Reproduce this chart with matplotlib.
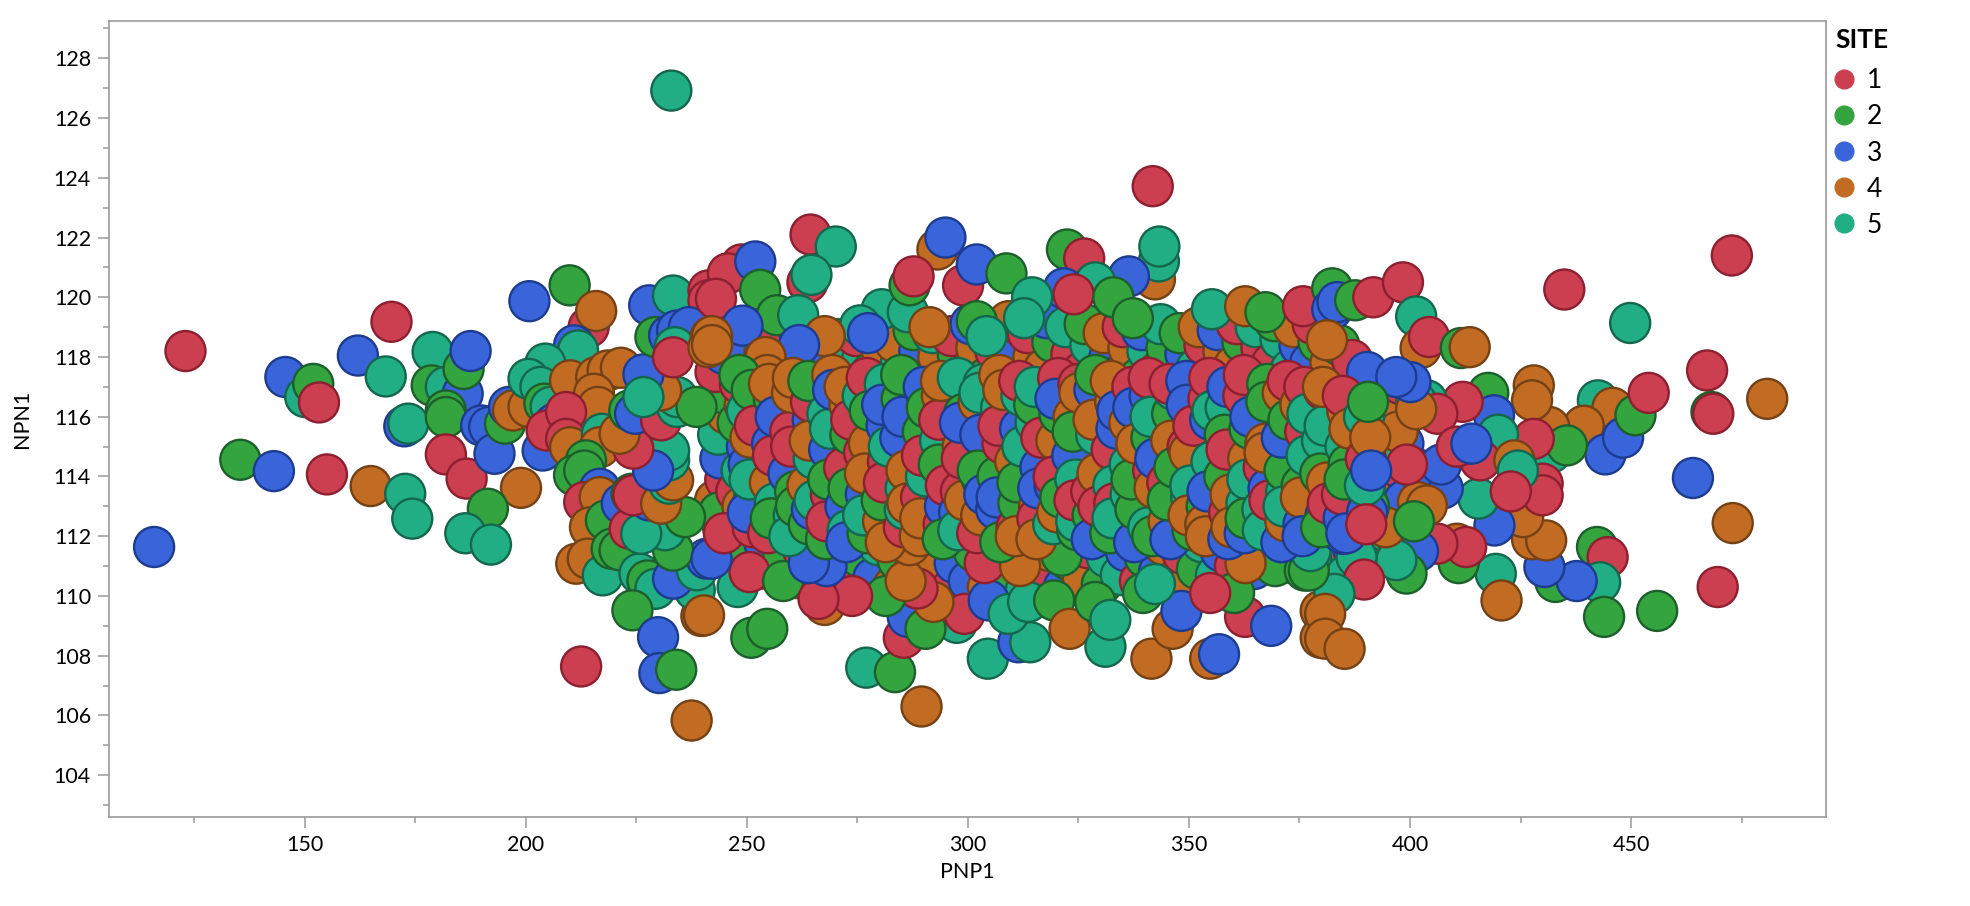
import numpy as np
import matplotlib
matplotlib.use('Agg')
import matplotlib.pyplot as plt
from matplotlib.lines import Line2D
from matplotlib.ticker import MultipleLocator

core_pnp1 = [
    243.2, 244.6, 242.8, 245.1, 244.0, 243.5, 245.4, 244.3, 242.9, 244.8, 243.7,
    248.1, 249.3, 247.6, 248.8, 250.0, 247.9, 249.5, 248.4, 250.2, 247.4, 249.0,
    252.6, 253.9, 252.2, 254.3, 253.1, 252.8, 254.6, 253.4, 252.0, 254.0, 253.6,
    257.4, 258.5, 256.9, 258.0, 259.1, 257.1, 258.8, 257.7, 259.3, 256.6, 258.2,
    261.3, 262.8, 261.0, 262.2, 263.2, 261.6, 262.5, 263.5, 260.9, 262.0, 261.9,
    265.9, 267.0, 265.2, 266.4, 267.4, 265.6, 266.8, 265.0, 267.6, 266.1, 266.6,
    270.1, 271.2, 269.7, 270.8, 271.6, 270.4, 269.4, 271.0, 270.0, 271.8, 270.6,
    274.2, 275.5, 273.8, 274.9, 275.9, 274.5, 273.5, 275.2, 274.0, 276.0, 274.7,
    278.6, 279.7, 278.1, 279.2, 280.1, 278.9, 277.9, 279.5, 278.3, 280.3, 279.0,
    283.0, 284.1, 282.5, 283.5, 284.6, 283.2, 282.3, 283.8, 282.8, 284.8, 283.4,
    287.2, 288.4, 286.8, 287.9, 288.8, 287.5, 286.5, 288.1, 287.0, 289.0, 287.7,
    291.6, 292.7, 291.1, 292.2, 293.0, 291.8, 290.9, 292.4, 291.3, 293.3, 292.0,
    296.0, 297.0, 295.4, 296.5, 297.4, 296.2, 295.1, 296.8, 295.7, 297.7, 296.3,
    300.2, 301.3, 299.8, 300.8, 301.7, 300.5, 299.5, 301.0, 300.0, 301.9, 300.6,
    304.5, 305.6, 304.0, 305.1, 306.0, 304.8, 303.8, 305.3, 304.2, 306.2, 304.9,
    308.8, 309.9, 308.3, 309.4, 310.3, 309.1, 308.1, 309.6, 308.6, 310.5, 309.2,
    313.1, 314.2, 312.6, 313.7, 314.6, 313.4, 312.4, 313.9, 312.9, 314.8, 313.5,
    317.4, 318.5, 316.9, 318.0, 318.9, 317.7, 316.7, 318.2, 317.2, 319.1, 317.8,
    321.7, 322.8, 321.2, 322.3, 323.2, 322.0, 321.0, 322.5, 321.5, 323.4, 322.1,
    326.0, 327.1, 325.5, 326.6, 327.5, 326.3, 325.3, 326.8, 325.8, 327.7, 326.4,
    330.3, 331.4, 329.8, 330.9, 331.8, 330.6, 329.6, 331.1, 330.1, 332.0, 330.7,
    334.6, 335.7, 334.1, 335.2, 336.1, 334.9, 333.9, 335.4, 334.4, 336.3, 335.0,
    338.9, 340.0, 338.4, 339.5, 340.4, 339.2, 338.2, 339.7, 338.7, 340.6, 339.3,
    343.2, 344.3, 342.7, 343.8, 344.7, 343.5, 342.5, 344.0, 343.0, 344.9, 343.6,
    347.5, 348.6, 347.0, 348.1, 349.0, 347.8, 346.8, 348.3, 347.3, 349.2, 347.9,
    351.8, 352.9, 351.3, 352.4, 353.3, 352.1, 351.1, 352.6, 351.6, 353.5, 352.2,
    356.1, 357.2, 355.6, 356.7, 357.6, 356.4, 355.4, 356.9, 355.9, 357.8, 356.5,
    360.4, 361.5, 359.9, 361.0, 361.9, 360.7, 359.7, 361.2, 360.2, 362.1, 360.8,
    364.7, 365.8, 364.2, 365.3, 366.2, 365.0, 364.0, 365.5, 364.5, 366.4, 365.1,
    369.0, 370.1, 368.5, 369.6, 370.5, 369.3, 368.3, 369.8, 368.8, 370.7, 369.4,
    373.3, 374.4, 372.8, 373.9, 374.8, 373.6, 372.6, 374.1, 373.1, 375.0, 373.7,
    377.6, 378.7, 377.1, 378.2, 379.1, 377.9, 376.9, 378.4, 377.4, 379.3, 378.0,
    382.2, 383.4, 381.7, 382.8, 383.8, 382.5, 381.4, 383.1, 382.0, 384.0, 382.6,
    387.1, 388.3, 386.6, 387.7, 388.8, 387.4, 386.3, 388.0, 386.9, 389.0, 387.5,
    392.0, 393.2, 391.5, 392.6, 393.7, 392.3, 391.2, 392.9, 391.8, 393.9, 392.4,
    396.8, 398.0, 396.3, 397.4, 398.5, 397.1, 396.0, 397.7, 396.6, 398.7, 397.2,
]
core_npn1 = [
    111.4, 112.3, 113.2, 113.9, 114.6, 115.4, 116.1, 116.8, 117.5, 118.1, 112.8,
    111.1, 112.6, 113.5, 114.2, 115.0, 115.8, 116.4, 117.1, 117.8, 118.4, 113.0,
    110.9, 111.8, 112.9, 113.7, 114.5, 115.3, 116.0, 116.7, 117.4, 118.2, 118.7,
    110.8, 112.1, 113.1, 114.0, 114.8, 115.6, 116.3, 117.0, 117.6, 118.5, 111.4,
    110.6, 111.5, 112.6, 113.4, 114.3, 115.1, 115.9, 116.6, 117.3, 118.1, 118.8,
    110.7, 112.0, 112.9, 113.8, 114.6, 115.5, 116.2, 117.0, 117.7, 118.3, 111.2,
    110.5, 111.6, 112.5, 113.3, 114.1, 115.0, 115.7, 116.5, 117.2, 118.0, 118.6,
    110.4, 111.3, 112.3, 113.1, 113.9, 114.8, 115.6, 116.4, 117.1, 117.9, 118.7,
    110.6, 111.7, 112.7, 113.6, 114.4, 115.2, 116.0, 116.8, 117.5, 118.3, 119.0,
    110.3, 111.2, 112.2, 113.0, 113.8, 114.7, 115.5, 116.3, 117.0, 117.8, 118.5,
    110.7, 111.6, 112.6, 113.5, 114.3, 115.1, 115.9, 116.7, 117.4, 118.2, 118.9,
    110.4, 111.3, 112.4, 113.2, 114.0, 114.9, 115.7, 116.5, 117.3, 118.0, 118.8,
    110.2, 111.1, 112.1, 113.0, 113.9, 114.7, 115.6, 116.4, 117.2, 118.1, 118.7,
    110.5, 111.5, 112.5, 113.4, 114.2, 115.0, 115.8, 116.6, 117.4, 118.3, 119.1,
    110.3, 111.2, 112.2, 113.1, 113.9, 114.8, 115.6, 116.5, 117.3, 118.2, 118.9,
    110.4, 111.4, 112.4, 113.3, 114.1, 114.9, 115.7, 116.6, 117.5, 118.4, 119.2,
    110.2, 111.1, 112.0, 112.9, 113.8, 114.6, 115.5, 116.3, 117.1, 118.0, 118.8,
    110.5, 111.5, 112.4, 113.3, 114.2, 115.1, 115.9, 116.7, 117.6, 118.5, 119.3,
    110.3, 111.2, 112.2, 113.1, 113.9, 114.7, 115.6, 116.4, 117.2, 118.1, 119.0,
    110.6, 111.6, 112.5, 113.4, 114.3, 115.0, 115.8, 116.7, 117.5, 118.4, 119.1,
    110.4, 111.3, 112.2, 113.0, 113.8, 114.7, 115.5, 116.3, 117.2, 118.0, 118.8,
    110.7, 111.5, 112.4, 113.2, 114.1, 115.0, 115.9, 116.6, 117.4, 118.3, 119.0,
    110.5, 111.3, 112.1, 113.1, 113.9, 114.8, 115.6, 116.4, 117.3, 118.2, 118.9,
    110.8, 111.7, 112.6, 113.5, 114.3, 115.1, 115.9, 116.7, 117.5, 118.3, 119.1,
    110.6, 111.4, 112.3, 113.2, 114.0, 114.8, 115.7, 116.5, 117.2, 118.1, 118.8,
    110.9, 111.8, 112.7, 113.5, 114.4, 115.2, 116.0, 116.8, 117.6, 118.4, 119.0,
    110.7, 111.5, 112.4, 113.3, 114.1, 114.9, 115.7, 116.6, 117.4, 118.2, 118.9,
    111.0, 111.9, 112.8, 113.6, 114.5, 115.3, 116.1, 116.9, 117.7, 118.5, 119.1,
    110.9, 111.7, 112.5, 113.4, 114.2, 115.0, 115.8, 116.7, 117.5, 118.3, 119.0,
    111.2, 112.0, 112.9, 113.7, 114.5, 115.3, 116.2, 117.0, 117.8, 118.6, 119.2,
    111.1, 111.9, 112.7, 113.5, 114.4, 115.2, 116.0, 116.8, 117.6, 118.4, 119.0,
    111.3, 112.1, 113.0, 113.8, 114.6, 115.4, 116.2, 117.0, 117.8, 118.5, 119.1,
    111.4, 112.2, 113.1, 113.9, 114.7, 115.5, 116.3, 117.1, 117.8, 118.4, 112.7,
    111.6, 112.4, 113.2, 114.0, 114.8, 115.6, 116.4, 117.2, 117.9, 112.9, 115.0,
    111.8, 112.6, 113.4, 114.2, 115.0, 115.8, 116.5, 117.2, 113.8, 112.2, 116.1,
    112.0, 112.8, 113.6, 114.3, 115.1, 115.9, 116.6, 117.1, 114.7, 113.2, 115.5,
]
core_site = [
    5, 2, 4, 1, 3, 5, 4, 2, 1, 3, 2,
    2, 4, 1, 5, 3, 2, 4, 1, 5, 3, 4,
    1, 3, 5, 2, 4, 1, 5, 3, 2, 4, 5,
    3, 5, 1, 4, 2, 3, 5, 2, 4, 1, 2,
    4, 1, 3, 2, 5, 1, 4, 3, 5, 2, 3,
    2, 4, 5, 1, 3, 2, 5, 4, 1, 3, 1,
    5, 3, 2, 4, 1, 5, 2, 3, 4, 1, 5,
    1, 2, 4, 3, 5, 1, 3, 4, 2, 5, 1,
    3, 5, 1, 2, 4, 3, 1, 5, 2, 4, 3,
    4, 2, 3, 5, 1, 4, 2, 1, 3, 5, 4,
    2, 1, 5, 4, 3, 2, 1, 4, 5, 3, 2,
    5, 4, 1, 3, 2, 5, 3, 2, 1, 4, 5,
    1, 3, 4, 2, 5, 1, 4, 5, 3, 2, 1,
    3, 2, 5, 1, 4, 3, 2, 1, 5, 4, 3,
    4, 5, 2, 3, 1, 4, 5, 3, 2, 1, 2,
    2, 1, 4, 5, 3, 2, 4, 1, 5, 3, 4,
    5, 3, 1, 2, 4, 5, 1, 2, 3, 4, 1,
    1, 4, 3, 5, 2, 1, 3, 5, 4, 2, 3,
    3, 2, 5, 4, 1, 3, 5, 4, 2, 1, 5,
    4, 1, 2, 3, 5, 4, 2, 3, 1, 5, 2,
    2, 5, 4, 1, 3, 2, 4, 1, 5, 3, 4,
    5, 3, 1, 4, 2, 5, 1, 2, 3, 4, 1,
    1, 2, 3, 5, 4, 1, 3, 4, 2, 5, 3,
    3, 4, 5, 2, 1, 3, 5, 1, 4, 2, 5,
    4, 1, 2, 3, 5, 4, 2, 5, 1, 3, 2,
    2, 5, 4, 1, 3, 2, 4, 3, 5, 1, 4,
    5, 3, 1, 2, 4, 5, 1, 2, 3, 4, 3,
    1, 4, 3, 5, 2, 1, 3, 5, 4, 2, 1,
    3, 2, 5, 4, 1, 3, 5, 4, 2, 1, 5,
    4, 1, 2, 3, 5, 4, 2, 3, 1, 5, 2,
    2, 5, 4, 1, 3, 2, 4, 1, 5, 3, 4,
    5, 3, 1, 2, 4, 5, 1, 4, 3, 2, 1,
    1, 4, 3, 5, 2, 1, 3, 5, 4, 2, 3,
    3, 2, 5, 1, 4, 3, 5, 2, 1, 4, 5,
    4, 1, 2, 3, 5, 4, 1, 3, 2, 5, 2,
    2, 5, 4, 1, 3, 2, 4, 1, 5, 3, 4,
]

# the visible rim and the stragglers, drawn after the core so they sit on top
rim_pnp1 = [
    115.9, 123.0, 135.4, 143.0, 145.6, 150.1, 151.9, 153.2, 155.0, 162.0,
    168.3, 169.6, 164.9, 172.7, 174.3, 172.5, 173.4, 178.9, 178.7, 181.9,
    185.7, 185.9, 187.5, 181.9, 181.9, 181.9, 186.6, 189.9, 191.7, 192.9,
    195.3, 196.2, 197.1, 200.6, 198.9, 191.4, 186.3, 192.1, 200.8, 209.9,
    214.2, 215.9, 210.9, 211.8, 204.4, 200.6, 203.3, 204.2, 205.6, 203.8,
    206.5, 204.7, 210.0, 215.9, 218.5, 221.5, 215.4, 216.3, 209.1, 209.1,
    210.0, 217.2, 216.7, 213.6, 210.9, 213.2, 216.7, 213.2, 216.7, 214.5,
    218.1, 221.7, 223.9, 211.4, 214.0, 217.4, 219.4, 221.2, 225.7, 227.5,
    229.3, 224.1, 229.9, 212.5, 230.2, 234.0, 237.5, 239.7, 238.2, 233.3,
    238.7, 240.9, 233.3, 231.5, 223.5, 226.1, 236.0, 227.9, 224.3, 230.6,
    232.4, 233.3, 232.4, 232.4, 228.8, 224.3, 221.2, 223.4, 224.7, 230.6,
    234.2, 234.2, 238.6, 230.6, 226.6, 226.6, 227.9, 233.3, 241.3, 241.3,
    229.3, 232.4, 234.2, 236.9, 233.7, 233.3, 241.8, 241.3, 232.9,
    264.4, 270.1, 293.1, 294.9, 298.9, 302.0, 308.7, 322.4, 326.3, 342.3,
    343.2, 343.3, 336.4, 328.8, 321.7, 323.9, 332.9, 314.5, 312.7, 337.3,
    355.2, 362.7, 367.3, 375.8, 248.8, 245.7, 243.0, 251.9, 253.0, 263.7,
    264.6, 256.8, 261.6, 249.0, 242.1, 242.1, 280.5, 286.4, 286.8, 287.7,
    291.3, 302.0, 304.2, 275.6, 277.4, 267.6, 261.8, 254.2, 254.6, 248.3,
    341.8, 240.3, 247.9, 250.6, 251.0, 254.6, 258.2, 242.0, 244.8, 277.0,
    283.5, 289.5, 285.5, 286.4, 297.5, 290.4, 299.2, 292.2, 288.6, 281.4,
    267.6, 273.8, 266.2, 285.9, 304.7, 304.5, 311.4, 314.1, 309.2, 313.6,
    319.5, 323.0, 331.1, 328.8, 332.2, 341.5, 346.3, 348.3, 354.8, 356.8,
    362.7, 368.6, 360.2, 339.6, 342.3, 354.8, 369.5, 362.8, 376.2, 377.6,
    379.8, 379.8, 268.0, 264.0, 303.8, 321.2, 311.8, 286.8, 258.6,
    382.4, 382.4, 383.6, 387.6, 391.7, 398.4, 401.4, 402.4, 404.3, 411.5,
    413.5, 381.2, 390.3, 472.8, 434.9, 449.8, 467.2, 480.8, 468.2, 468.6,
    442.5, 445.8, 439.3, 444.2, 448.2, 451.0, 454.0, 428.0, 431.5, 431.9,
    435.5, 427.6, 428.0, 417.7, 419.0, 419.9, 411.9, 403.8, 401.4, 406.2,
    401.4, 400.1, 396.9, 464.0, 473.0, 469.6, 442.3, 444.7, 443.0, 443.9,
    455.9, 432.9, 437.7, 430.4, 427.6, 430.8, 425.6, 430.0, 430.0, 419.1,
    415.5, 419.4, 420.7, 410.6, 411.0, 412.7, 406.2, 401.8, 399.2, 396.9,
    385.6, 387.9, 389.6, 382.9, 380.8, 380.8, 385.2, 377.1, 377.5, 384.8,
    407.4, 401.4, 407.0, 401.8, 403.8, 415.9, 410.6, 413.9, 423.6, 424.4,
    422.8, 394.5, 400.9, 399.3,
]
rim_npn1 = [
    111.64, 118.20, 114.56, 114.18, 117.33, 116.66, 117.10, 116.48, 114.07, 118.05,
    117.35, 119.18, 113.68, 113.42, 112.59, 115.68, 115.77, 118.17, 117.05, 117.00,
    116.77, 117.60, 118.20, 116.21, 115.99, 114.74, 113.93, 115.71, 115.66, 114.76,
    115.77, 116.33, 116.21, 116.33, 113.62, 112.92, 112.10, 111.72, 119.87, 120.40,
    119.00, 119.54, 118.39, 118.22, 117.78, 117.27, 117.00, 116.44, 116.33, 114.87,
    115.77, 115.54, 117.22, 117.33, 117.55, 117.64, 116.77, 116.33, 116.16, 115.26,
    114.98, 115.43, 114.98, 114.54, 114.04, 114.20, 113.59, 113.14, 113.31, 112.30,
    112.53, 113.09, 113.42, 111.08, 111.25, 110.69, 111.58, 111.53, 110.75, 110.52,
    110.24, 109.52, 108.62, 107.64, 107.42, 107.53, 105.83, 109.33, 110.20, 110.58,
    110.86, 111.25, 111.52, 112.20, 112.25, 112.08, 112.64, 113.20, 113.37, 113.09,
    113.76, 113.87, 114.54, 114.87, 114.20, 114.93, 115.43, 116.21, 116.10, 115.88,
    116.33, 116.66, 116.33, 116.88, 117.42, 116.66, 119.73, 120.06, 120.23, 119.90,
    118.67, 118.72, 118.89, 119.00, 118.33, 117.99, 118.67, 118.33, 126.92,
    122.10, 121.70, 121.60, 122.00, 120.40, 121.10, 120.80, 121.60, 121.30, 120.60,
    121.20, 121.70, 120.70, 120.50, 120.30, 120.10, 120.00, 120.00, 119.30, 119.30,
    119.60, 119.70, 119.50, 119.70, 121.10, 120.80, 119.95, 121.20, 120.25, 120.50,
    120.75, 119.40, 119.40, 119.05, 118.70, 118.40, 119.60, 119.50, 120.40, 120.70,
    119.00, 119.20, 118.70, 119.06, 118.80, 118.70, 118.40, 118.00, 117.40, 117.40,
    123.72, 109.35, 110.30, 110.80, 108.60, 108.90, 110.50, 111.25, 112.10, 107.60,
    107.45, 106.30, 108.60, 109.30, 109.10, 108.90, 109.40, 109.80, 110.25, 110.00,
    109.70, 110.00, 109.90, 110.50, 109.85, 107.90, 108.45, 108.45, 109.40, 109.80,
    109.85, 108.90, 108.30, 109.80, 109.20, 107.90, 108.90, 109.50, 107.90, 108.05,
    109.30, 109.00, 110.10, 110.10, 110.40, 110.10, 111.00, 111.10, 110.85, 111.25,
    109.50, 108.60, 111.00, 111.10, 111.10, 111.35, 111.00, 111.70, 112.20,
    120.30, 119.60, 119.84, 119.90, 120.00, 120.50, 119.36, 118.30, 118.67, 118.30,
    118.33, 118.56, 117.50, 121.40, 120.26, 119.14, 117.55, 116.60, 116.16, 116.10,
    116.55, 116.30, 115.70, 114.74, 115.30, 116.05, 116.80, 117.05, 115.66, 114.80,
    115.04, 116.55, 115.26, 116.80, 116.05, 115.40, 116.50, 116.55, 116.50, 116.10,
    116.25, 117.16, 117.33, 113.95, 112.44, 110.30, 111.64, 111.30, 110.46, 109.30,
    109.50, 110.47, 110.50, 110.97, 111.90, 111.86, 112.64, 113.76, 113.37, 112.36,
    113.26, 110.74, 109.85, 111.75, 111.10, 111.64, 111.75, 111.50, 110.75, 111.20,
    110.70, 111.30, 110.55, 110.07, 109.40, 108.57, 108.23, 110.85, 111.50, 112.08,
    113.60, 114.26, 114.40, 113.14, 113.03, 114.54, 115.00, 115.10, 114.54, 114.20,
    113.50, 112.30, 112.50, 114.40,
]
rim_site = [
    3, 1, 2, 3, 3, 5, 2, 1, 1, 3,
    5, 1, 4, 5, 5, 3, 5, 5, 2, 5,
    3, 2, 3, 2, 2, 1, 1, 3, 3, 3,
    2, 3, 4, 4, 4, 2, 5, 5, 3, 2,
    1, 4, 3, 5, 5, 5, 5, 2, 5, 3,
    3, 1, 4, 4, 4, 4, 4, 4, 1, 1,
    4, 5, 4, 2, 2, 2, 3, 1, 4, 4,
    2, 3, 2, 4, 4, 5, 2, 2, 5, 2,
    5, 2, 3, 1, 3, 2, 4, 4, 5, 3,
    5, 3, 2, 5, 1, 5, 2, 3, 1, 4,
    5, 4, 5, 5, 3, 1, 4, 2, 3, 1,
    5, 5, 2, 4, 3, 5, 3, 5, 1, 1,
    2, 3, 3, 3, 5, 1, 4, 4, 5,
    1, 5, 4, 3, 1, 3, 2, 2, 1, 4,
    5, 5, 3, 5, 3, 1, 2, 5, 5, 2,
    5, 4, 2, 1, 1, 1, 1, 3, 2, 1,
    5, 2, 5, 3, 4, 4, 5, 5, 2, 1,
    4, 2, 5, 5, 3, 4, 3, 4, 4, 2,
    1, 4, 5, 1, 2, 2, 2, 3, 1, 5,
    2, 4, 1, 3, 5, 2, 1, 4, 1, 2,
    4, 1, 1, 4, 3, 5, 3, 5, 5, 5,
    2, 4, 5, 2, 5, 4, 4, 3, 4, 3,
    1, 3, 2, 2, 5, 1, 2, 4, 2, 5,
    4, 4, 3, 3, 1, 2, 4, 4, 5,
    2, 3, 3, 2, 1, 1, 5, 4, 1, 2,
    4, 4, 3, 1, 1, 5, 1, 4, 2, 1,
    5, 4, 4, 3, 3, 2, 1, 4, 4, 5,
    2, 4, 1, 2, 3, 5, 1, 5, 5, 1,
    4, 3, 3, 3, 4, 1, 2, 1, 5, 2,
    2, 2, 3, 3, 4, 4, 4, 1, 1, 3,
    5, 5, 4, 4, 2, 1, 1, 3, 2, 5,
    5, 5, 1, 5, 4, 4, 4, 2, 5, 3,
    3, 3, 3, 4, 4, 1, 1, 3, 4, 5,
    1, 4, 2, 1,
]

# second pass over the inner cloud, the slivers that show on top of the rest
inner_pnp1 = [
    250.4, 251.3, 250.0, 251.6, 250.8, 250.2, 251.1, 250.6, 251.8,
    255.2, 256.1, 254.8, 255.7, 256.3, 255.0, 255.9, 255.4, 256.5,
    259.8, 260.6, 259.4, 260.2, 260.9, 259.6, 260.4, 260.0, 261.1,
    264.0, 264.9, 263.7, 264.5, 265.1, 263.9, 264.7, 264.2, 265.3,
    268.2, 269.0, 267.9, 268.6, 269.3, 268.0, 268.8, 268.4, 269.5,
    272.3, 273.2, 272.0, 272.8, 273.4, 272.1, 273.0, 272.5, 273.6,
    276.5, 277.3, 276.2, 276.9, 277.6, 276.3, 277.1, 276.7, 277.8,
    280.8, 281.6, 280.5, 281.2, 281.9, 280.6, 281.4, 281.0, 282.1,
    285.0, 285.9, 284.7, 285.5, 286.1, 284.9, 285.7, 285.2, 286.3,
    289.4, 290.2, 289.1, 289.8, 290.5, 289.2, 290.0, 289.6, 290.7,
    293.7, 294.5, 293.4, 294.1, 294.8, 293.5, 294.3, 293.9, 295.0,
    298.0, 298.8, 297.7, 298.4, 299.1, 297.8, 298.6, 298.2, 299.3,
    302.4, 303.2, 302.1, 302.8, 303.5, 302.2, 303.0, 302.6, 303.7,
    306.7, 307.5, 306.4, 307.1, 307.8, 306.5, 307.3, 306.9, 308.0,
    311.0, 311.8, 310.7, 311.4, 312.1, 310.8, 311.6, 311.2, 312.3,
    315.3, 316.1, 315.0, 315.7, 316.4, 315.1, 315.9, 315.5, 316.6,
    319.6, 320.4, 319.3, 320.0, 320.7, 319.4, 320.2, 319.8, 320.9,
    323.9, 324.7, 323.6, 324.3, 325.0, 323.7, 324.5, 324.1, 325.2,
    328.2, 329.0, 327.9, 328.6, 329.3, 328.0, 328.8, 328.4, 329.5,
    332.5, 333.3, 332.2, 332.9, 333.6, 332.3, 333.1, 332.7, 333.8,
    336.8, 337.6, 336.5, 337.2, 337.9, 336.6, 337.4, 337.0, 338.1,
    341.1, 341.9, 340.8, 341.5, 342.2, 340.9, 341.7, 341.3, 342.4,
    345.4, 346.2, 345.1, 345.8, 346.5, 345.2, 346.0, 345.6, 346.7,
    349.7, 350.5, 349.4, 350.1, 350.8, 349.5, 350.3, 349.9, 351.0,
    354.0, 354.8, 353.7, 354.4, 355.1, 353.8, 354.6, 354.2, 355.3,
    358.3, 359.1, 358.0, 358.7, 359.4, 358.1, 358.9, 358.5, 359.6,
    362.6, 363.4, 362.3, 363.0, 363.7, 362.4, 363.2, 362.8, 363.9,
    366.9, 367.7, 366.6, 367.3, 368.0, 366.7, 367.5, 367.1, 368.2,
    371.2, 372.0, 370.9, 371.6, 372.3, 371.0, 371.8, 371.4, 372.5,
    375.5, 376.3, 375.2, 375.9, 376.6, 375.3, 376.1, 375.7, 376.8,
    380.1, 380.9, 379.7, 380.5, 381.2, 379.9, 380.7, 380.3, 381.4,
    385.0, 385.8, 384.6, 385.4, 386.1, 384.8, 385.6, 385.2, 386.3,
    390.0, 390.7, 389.6, 390.3, 391.0, 389.8, 390.5, 390.1, 391.2,
]
inner_npn1 = [
    114.4, 112.3, 116.2, 113.3, 115.3, 112.8, 116.9, 113.9, 115.7,
    113.8, 116.6, 112.1, 115.1, 113.1, 117.1, 114.7, 112.6, 116.0,
    115.5, 112.7, 114.1, 116.8, 113.5, 112.0, 117.3, 115.0, 113.0,
    112.4, 115.9, 113.7, 116.5, 114.6, 117.2, 112.9, 115.2, 113.2,
    116.1, 113.4, 111.9, 114.9, 117.4, 112.5, 115.6, 113.9, 116.9,
    113.0, 116.4, 114.3, 112.2, 115.4, 117.0, 113.6, 111.8, 115.9,
    114.8, 112.1, 116.7, 113.4, 115.1, 112.7, 117.3, 114.1, 116.2,
    112.5, 115.7, 113.2, 117.1, 114.5, 116.4, 111.8, 113.8, 115.0,
    116.6, 113.6, 115.3, 112.3, 114.2, 117.4, 112.9, 116.0, 113.1,
    113.3, 116.9, 112.0, 115.5, 114.0, 112.6, 117.0, 114.7, 116.3,
    115.2, 112.4, 114.4, 116.7, 113.0, 115.9, 111.9, 117.2, 113.7,
    112.8, 115.0, 117.3, 113.5, 116.1, 112.2, 114.6, 115.8, 113.2,
    116.5, 113.9, 112.1, 115.4, 117.1, 114.2, 112.7, 116.8, 113.4,
    114.0, 116.3, 112.9, 117.4, 115.1, 113.3, 111.8, 115.7, 116.9,
    112.3, 115.6, 114.5, 113.1, 116.7, 112.0, 117.2, 113.8, 115.0,
    115.8, 113.0, 116.4, 112.6, 114.3, 117.0, 113.6, 111.9, 115.3,
    113.7, 117.3, 112.4, 115.2, 116.1, 114.0, 112.8, 116.6, 113.3,
    116.0, 112.2, 114.7, 113.9, 117.1, 115.5, 112.5, 113.2, 116.8,
    112.7, 115.4, 113.5, 116.9, 114.1, 111.9, 117.4, 115.9, 113.0,
    114.9, 116.5, 112.1, 113.7, 115.6, 117.2, 113.1, 112.6, 116.2,
    113.4, 111.8, 115.8, 117.0, 112.9, 114.4, 116.3, 113.9, 115.1,
    116.7, 114.2, 112.3, 115.3, 113.6, 117.3, 112.0, 116.0, 114.6,
    112.5, 116.1, 113.8, 111.9, 116.9, 113.2, 115.2, 117.1, 114.3,
    115.0, 113.3, 117.2, 114.8, 112.2, 116.4, 113.7, 112.7, 115.7,
    113.0, 115.9, 112.4, 116.6, 114.5, 112.0, 117.3, 113.5, 116.2,
    116.3, 112.8, 114.0, 117.0, 113.4, 115.4, 111.9, 114.9, 112.3,
    112.1, 114.6, 116.7, 113.1, 115.6, 117.4, 113.9, 112.6, 116.0,
    114.3, 117.1, 112.9, 115.1, 113.6, 112.2, 116.5, 114.8, 113.2,
    116.8, 113.5, 111.8, 114.2, 117.2, 115.3, 112.5, 113.0, 115.9,
    113.7, 115.5, 116.4, 112.4, 114.7, 113.3, 117.0, 112.0, 116.1,
    115.2, 112.7, 114.1, 116.9, 113.8, 112.3, 115.7, 117.0, 113.1,
    112.6, 116.2, 113.4, 115.0, 114.4, 116.7, 112.1, 113.9, 115.6,
    114.6, 113.0, 116.0, 112.8, 115.3, 113.7, 116.5, 112.4, 114.2,
]
inner_site = [
    3, 1, 5, 2, 4, 3, 2, 5, 1,
    4, 2, 1, 3, 5, 4, 1, 2, 3,
    1, 5, 3, 4, 2, 5, 4, 1, 2,
    2, 3, 4, 1, 5, 2, 3, 4, 5,
    5, 1, 2, 3, 4, 1, 5, 2, 3,
    3, 4, 1, 5, 2, 4, 2, 3, 1,
    1, 2, 5, 3, 4, 5, 1, 4, 2,
    4, 3, 2, 5, 1, 3, 4, 1, 5,
    2, 5, 3, 1, 4, 2, 5, 3, 4,
    1, 3, 4, 2, 5, 4, 3, 1, 2,
    5, 1, 2, 4, 3, 1, 2, 4, 1,
    3, 4, 5, 1, 2, 5, 1, 3, 4,
    4, 2, 1, 3, 5, 2, 4, 5, 3,
    2, 5, 3, 4, 1, 3, 2, 1, 4,
    1, 3, 4, 2, 5, 4, 1, 2, 5,
    5, 4, 2, 1, 3, 5, 3, 4, 1,
    3, 1, 5, 4, 2, 1, 4, 3, 2,
    4, 2, 3, 5, 1, 2, 5, 1, 4,
    2, 5, 1, 3, 4, 3, 2, 4, 1,
    1, 4, 2, 5, 3, 4, 1, 5, 3,
    5, 3, 4, 1, 2, 5, 3, 2, 4,
    3, 1, 5, 2, 4, 1, 2, 5, 3,
    4, 2, 1, 3, 5, 2, 4, 1, 2,
    1, 5, 3, 4, 2, 3, 5, 4, 1,
    2, 3, 4, 1, 5, 4, 1, 3, 5,
    5, 1, 2, 3, 4, 2, 3, 1, 4,
    3, 4, 1, 5, 2, 1, 5, 2, 3,
    1, 2, 5, 4, 3, 5, 2, 4, 1,
    4, 5, 3, 2, 1, 3, 4, 5, 2,
    2, 1, 4, 3, 5, 4, 1, 3, 5,
    5, 3, 2, 1, 4, 2, 5, 4, 1,
    3, 4, 1, 5, 2, 1, 3, 2, 4,
    1, 2, 5, 3, 4, 5, 2, 1, 3,
]

site_labels = ['1', '2', '3', '4', '5']
site_colors = ['#CC3F50', '#34A53E', '#3A64D9', '#C26C23', '#22AE84']
edge_colors = ['#8C1F30', '#1C5F2C', '#1D3C90', '#744116', '#14664D']
gray = '#9a9a9a'

plt.rcParams['font.family'] = ['Lato', 'DejaVu Sans']

pnp1 = np.array(core_pnp1 + rim_pnp1 + inner_pnp1)
npn1 = np.array(core_npn1 + rim_npn1 + inner_npn1)
site = np.array(core_site + rim_site + inner_site) - 1

fig = plt.figure(figsize=(19.7, 9.06), dpi=100)
ax = fig.add_axes([109 / 1970, 1 - 817 / 906, (1826 - 109) / 1970, (817 - 21) / 906])

ax.scatter(pnp1, npn1, s=830, linewidths=1.7, zorder=3,
           c=[site_colors[i] for i in site],
           edgecolors=[edge_colors[i] for i in site])

ax.set_xlim(105.7, 494.1)
ax.set_ylim(102.6, 129.25)
ax.xaxis.set_major_locator(MultipleLocator(50))
ax.xaxis.set_minor_locator(MultipleLocator(25))
ax.yaxis.set_major_locator(MultipleLocator(2))
ax.yaxis.set_minor_locator(MultipleLocator(1))
ax.tick_params(which='major', length=8, width=1.1, color=gray, labelsize=15.5, pad=5)
ax.tick_params(which='minor', length=4, width=1.1, color=gray)
for s in ax.spines.values():
    s.set_color(gray)
    s.set_linewidth(1.2)
ax.set_xlabel('PNP1', fontsize=15.5, labelpad=5)
ax.set_ylabel('NPN1', fontsize=15.5)
ax.yaxis.set_label_coords(-0.0448, 0.5)

handles = [Line2D([], [], ls='none', marker='o', ms=13.5, mfc=c, mec=c) for c in site_colors]
leg = fig.legend(handles, site_labels, title='SITE', loc='upper left',
                 bbox_to_anchor=(1830 / 1970, 1 - 23 / 906), frameon=False,
                 fontsize=19, title_fontproperties={'size': 19, 'weight': 'bold'},
                 alignment='left', labelspacing=0.42, handletextpad=0.5,
                 handlelength=0.68, borderpad=0.2, borderaxespad=0)
leg._legend_box.sep = 11.6

fig.savefig('out.png', dpi=100)
